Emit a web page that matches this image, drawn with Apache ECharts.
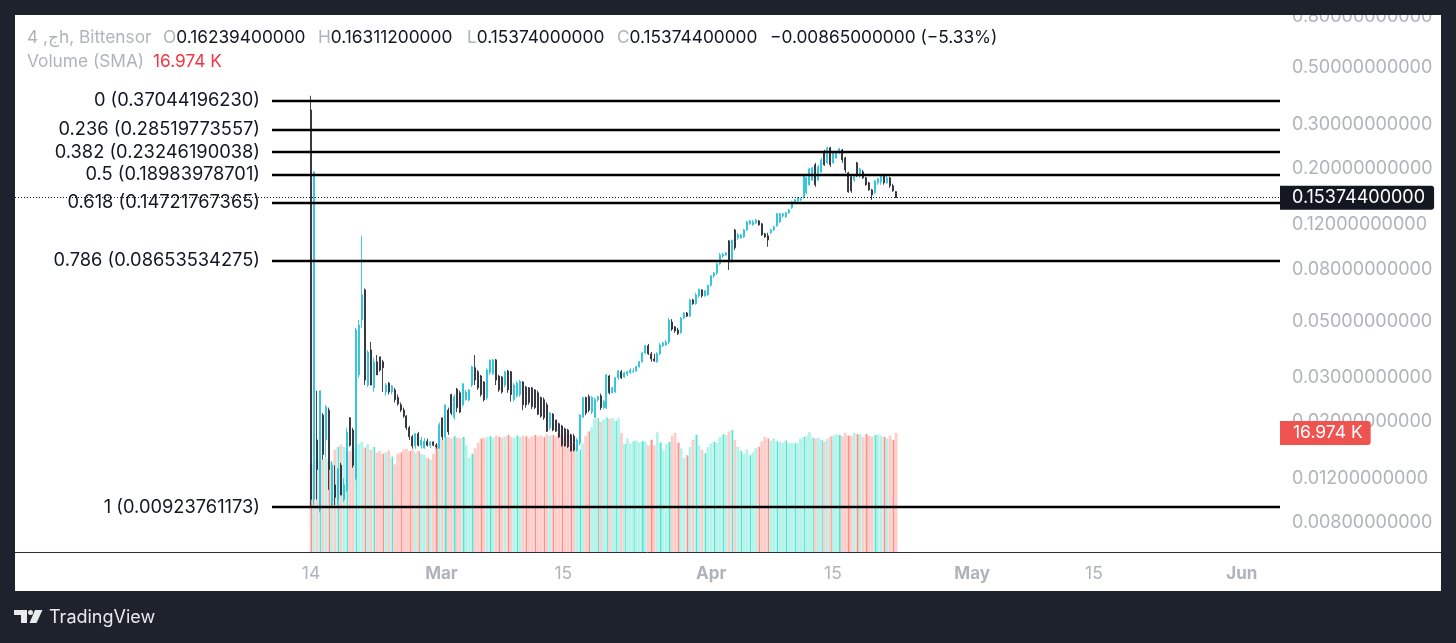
<!DOCTYPE html>
<html>
<head>
<meta charset="utf-8">
<title>Bittensor 4h</title>
<style>
  html, body { margin: 0; padding: 0; background: #1e222d; }
  #app { width: 1456px; height: 643px; }
</style>
<script src="https://cdn.jsdelivr.net/npm/echarts@6/dist/echarts.min.js"></script>
</head>
<body>
<div id="app"></div>
<script>
// prices, one candle per ~8h of the 4h chart
var opens = [
  .3413,.0099,.0170,.0090,.0213,.0170,.0223,.0094,.0113,.0099,.0135,.0099,.0108,.0208,.0186,.0120,.0307,.0506,.0665,.0280,
  .0385,.0273,.0346,.0362,.0346,.0263,.0285,.0263,.0268,.0250,.0234,.0223,.0211,.0190,.0175,.0161,.0180,.0162,.0158,.0168,
  .0162,.0167,.0162,.0158,.0208,.0175,.0223,.0257,.0209,.0270,.0261,.0234,.0245,.0245,.0280,.0328,.0316,.0304,.0288,.0250,
  .0313,.0310,.0352,.0304,.0301,.0280,.0318,.0316,.0245,.0254,.0257,.0288,.0275,.0273,.0273,.0268,.0261,.0250,.0245,.0234,
  .0190,.0215,.0204,.0197,.0193,.0188,.0186,.0178,.0176,.0155,.0165,.0209,.0250,.0252,.0219,.0209,.0245,.0254,.0228,.0228,
  .0304,.0261,.0263,.0299,.0316,.0301,.0310,.0313,.0316,.0318,.0331,.0346,.0375,.0400,.0372,.0355,.0346,.0372,.0400,.0403,
  .0414,.0497,.0475,.0462,.0450,.0515,.0539,.0524,.0607,.0586,.0630,.0665,.0630,.0636,.0693,.0755,.0776,.0843,.0905,.0914,
  .1038,.0858,.1147,.1067,.1067,.1077,.1147,.1212,.1202,.1223,.1245,.1212,.1107,.1087,.1117,.1147,.1191,.1234,.1304,.1292,
  .1340,.1402,.1468,.1494,.1507,.1537,.1607,.1729,.1807,.2073,.1807,.1945,.2332,.2110,.2418,.2110,.2208,.2311,.2373,.2208,
  .1927,.1859,.1807,.2110,.1876,.1945,.1841,.1760,.1650,.1607,.1760,.1776,.1893,.1760,.1841,.1713,.1624
];
var highs = [
  .3882,.1945,.0266,.0266,.0217,.0234,.0228,.0140,.0135,.0132,.0138,.0120,.0190,.0209,.0190,.0471,.0506,.1087,.0674,.0385,
  .0414,.0359,.0368,.0362,.0352,.0285,.0288,.0280,.0273,.0257,.0239,.0228,.0213,.0193,.0178,.0181,.0183,.0175,.0173,.0172,
  .0168,.0168,.0165,.0199,.0208,.0234,.0228,.0259,.0257,.0273,.0266,.0285,.0268,.0270,.0334,.0368,.0321,.0307,.0290,.0326,
  .0352,.0355,.0355,.0307,.0304,.0318,.0321,.0318,.0285,.0290,.0293,.0290,.0278,.0275,.0275,.0270,.0266,.0252,.0250,.0239,
  .0219,.0217,.0204,.0199,.0195,.0190,.0188,.0180,.0180,.0173,.0215,.0252,.0252,.0257,.0254,.0250,.0254,.0259,.0245,.0310,
  .0307,.0275,.0301,.0321,.0321,.0316,.0318,.0326,.0326,.0334,.0349,.0378,.0403,.0407,.0378,.0372,.0378,.0411,.0414,.0422,
  .0515,.0510,.0479,.0471,.0519,.0544,.0544,.0613,.0613,.0648,.0674,.0668,.0665,.0699,.0762,.0783,.0851,.0931,.0931,.0939,
  .1047,.1047,.1158,.1117,.1107,.1158,.1245,.1256,.1256,.1268,.1256,.1223,.1117,.1117,.1158,.1191,.1340,.1340,.1340,.1352,
  .1389,.1494,.1521,.1550,.1537,.1893,.1859,.2016,.2035,.2110,.2073,.2208,.2373,.2441,.2441,.2332,.2332,.2418,.2396,.2229,
  .1945,.1876,.1876,.2129,.2016,.1979,.1859,.1776,.1666,.1807,.1841,.1893,.1910,.1876,.1859,.1744,.1631
];
var lows = [
  .0092,.0094,.0099,.0088,.0142,.0145,.0108,.0092,.0094,.0094,.0103,.0097,.0106,.0160,.0132,.0118,.0299,.0471,.0280,.0275,
  .0280,.0263,.0307,.0316,.0263,.0254,.0257,.0257,.0239,.0232,.0219,.0208,.0186,.0170,.0157,.0157,.0160,.0157,.0157,.0160,
  .0158,.0161,.0157,.0157,.0170,.0173,.0178,.0213,.0204,.0219,.0217,.0230,.0243,.0241,.0275,.0280,.0268,.0252,.0241,.0245,
  .0307,.0307,.0280,.0263,.0259,.0275,.0261,.0241,.0241,.0250,.0252,.0223,.0228,.0234,.0225,.0225,.0213,.0208,.0204,.0183,
  .0186,.0184,.0183,.0173,.0160,.0160,.0158,.0153,.0153,.0153,.0162,.0208,.0213,.0219,.0215,.0208,.0241,.0223,.0225,.0225,
  .0257,.0259,.0261,.0293,.0296,.0299,.0304,.0310,.0313,.0316,.0328,.0343,.0372,.0368,.0346,.0346,.0343,.0368,.0396,.0400,
  .0407,.0458,.0450,.0442,.0446,.0510,.0519,.0519,.0581,.0581,.0619,.0619,.0625,.0630,.0686,.0741,.0762,.0835,.0889,.0905,
  .0797,.0851,.0956,.1047,.1057,.1067,.1137,.1202,.1191,.1212,.1191,.1087,.1067,.0984,.1107,.1137,.1180,.1223,.1280,.1280,
  .1328,.1389,.1455,.1481,.1494,.1521,.1593,.1713,.1791,.1697,.1791,.1927,.2054,.2091,.2035,.2091,.2188,.2290,.2110,.1927,
  .1607,.1607,.1776,.1859,.1841,.1824,.1713,.1636,.1507,.1593,.1729,.1729,.1729,.1744,.1681,.1622,.1537
];
var closes = [
  .0099,.1945,.0130,.0266,.0149,.0230,.0130,.0135,.0101,.0130,.0103,.0113,.0183,.0162,.0135,.0462,.0483,.0636,.0293,.0378,
  .0280,.0346,.0307,.0321,.0328,.0280,.0263,.0278,.0245,.0236,.0223,.0211,.0190,.0175,.0161,.0180,.0162,.0170,.0168,.0162,
  .0167,.0162,.0160,.0195,.0175,.0234,.0183,.0217,.0252,.0228,.0219,.0283,.0263,.0268,.0331,.0293,.0273,.0257,.0245,.0321,
  .0352,.0352,.0293,.0268,.0263,.0316,.0268,.0257,.0280,.0285,.0290,.0234,.0234,.0239,.0230,.0228,.0215,.0211,.0208,.0184,
  .0217,.0186,.0184,.0175,.0162,.0161,.0160,.0154,.0155,.0170,.0213,.0250,.0217,.0223,.0250,.0245,.0252,.0228,.0241,.0307,
  .0261,.0273,.0299,.0318,.0299,.0313,.0316,.0321,.0318,.0331,.0346,.0375,.0400,.0372,.0355,.0349,.0372,.0403,.0411,.0414,
  .0506,.0466,.0458,.0446,.0515,.0539,.0524,.0607,.0586,.0636,.0668,.0630,.0659,.0693,.0755,.0776,.0843,.0914,.0922,.0931,
  .0858,.1047,.0975,.1097,.1097,.1147,.1234,.1245,.1234,.1256,.1202,.1097,.1077,.1047,.1147,.1180,.1328,.1328,.1328,.1340,
  .1376,.1481,.1507,.1537,.1521,.1876,.1841,.1998,.2016,.1729,.2035,.2167,.2073,.2418,.2073,.2311,.2311,.2396,.2167,.1979,
  .1622,.1636,.1859,.1876,.1998,.1841,.1729,.1650,.1579,.1791,.1824,.1876,.1760,.1841,.1713,.1636,.1537
];
// volume in thousands
var volumes = [
  12.5,13.1,13.3,13.0,13.2,13.4,13.0,12.9,14.6,15.0,15.3,15.0,14.2,14.4,14.8,14.9,15.4,15.7,14.9,15.4,
  14.6,15.0,14.2,14.4,14.0,14.2,14.5,13.6,12.5,14.0,14.2,14.6,14.7,14.4,14.6,14.2,14.4,14.0,13.8,13.4,
  13.2,14.0,15.4,16.2,16.0,16.4,16.4,16.2,16.5,16.3,16.2,16.4,15.2,13.4,14.0,14.8,15.6,16.2,16.3,16.4,
  16.5,16.3,16.6,16.4,16.3,16.5,16.7,16.4,16.3,16.6,16.4,16.6,16.5,16.2,16.5,16.7,16.5,16.6,16.4,16.8,
  16.6,16.7,16.5,17.0,16.8,16.4,17.0,16.7,15.4,15.0,14.6,15.5,16.5,17.2,17.8,19.0,19.1,18.6,18.9,19.2,
  19.0,19.1,18.7,19.1,17.0,15.4,16.2,15.5,15.8,15.9,15.6,15.8,15.7,15.2,16.0,15.2,17.1,15.6,14.5,15.4,
  15.7,16.6,17.0,15.6,14.8,13.4,13.8,15.0,16.0,16.7,15.2,14.6,14.1,15.0,15.5,15.7,15.6,16.4,16.8,16.7,
  17.2,17.4,16.0,15.0,14.4,14.0,14.6,13.8,14.2,14.8,15.0,15.8,16.4,16.2,15.9,16.2,15.8,15.7,15.6,15.9,
  15.5,15.6,15.5,15.6,16.2,16.4,16.6,17.1,16.3,16.2,16.3,16.0,15.8,16.2,16.5,16.6,16.8,16.7,16.5,17.0,
  16.6,16.6,17.0,16.8,16.8,16.4,16.8,16.6,16.5,16.7,16.8,16.6,16.4,16.2,16.6,16.0,16.974
];
var priceTicks = [0.8, 0.5, 0.3, 0.2, 0.12, 0.08, 0.05, 0.03, 0.02, 0.012, 0.008];
var fibRatios = ['0', '0.236', '0.382', '0.5', '0.618', '0.786', '1'];
var fibPrices = [0.3704419623, 0.28519773557, 0.23246190038, 0.18983978701, 0.14721767365, 0.08653534275, 0.00923761173];
// x axis counts days from 14 Feb
var dayTicks = [0, 15, 29, 46, 60, 76, 90, 107];
var dayLabels = ['14', '{m|Mar}', '15', '{m|Apr}', '15', '{m|May}', '15', '{m|Jun}'];
var lastPrice = 0.153744;
var lastVolume = 16.974;

var candleStep = 0.3431;
var axisFrom = -34.02;
var axisTo = 111.38;
var GRAY = '#b0b3b8';
var DARK = '#1e222d';

// pale bar, with a thin strong edge on every third one
function volumeColor(up, i) {
    var pale = up ? '#b4f3ea' : '#ffcdc9';
    var strong = up ? '#4fe6d4' : '#ff8f87';
    if (i % 3 !== 0) return pale;
    return new echarts.graphic.LinearGradient(0, 0, 1, 0, [
        { offset: 0, color: pale },
        { offset: 0.55, color: pale },
        { offset: 0.55, color: strong },
        { offset: 1, color: strong }
    ]);
}

var candleData = [];
var volumeData = [];
for (var i = 0; i < closes.length; i++) {
    var t = i * candleStep;
    candleData.push([t, opens[i], closes[i], lows[i], highs[i]]);
    volumeData.push({
        value: [t, volumes[i]],
        itemStyle: { color: volumeColor(closes[i] >= opens[i], i) }
    });
}

// fib lines run from just right of their labels to the price scale
var lineFrom = -4.48;
var fibLines = fibPrices.map(function (p, k) {
    return [
        {
            coord: [lineFrom, p],
            label: { formatter: fibRatios[k] + ' (' + p.toFixed(11) + ')' }
        },
        { coord: [axisTo, p] }
    ];
});

var HEAD_FONT = '17.3px Inter';
function headerText(x, y, text, rich) {
    return {
        type: 'text', x: x, y: y, z: 110, silent: true,
        style: { text: text, font: HEAD_FONT, fill: '#000', rich: rich, verticalAlign: 'middle' }
    };
}
var headRich = {
    g: { fill: GRAY, font: HEAD_FONT },
    k: { fill: '#131722', font: HEAD_FONT },
    r: { fill: '#f23645', font: HEAD_FONT }
};

var myEchart = echarts.init(document.getElementById('app'), null, { renderer: 'canvas' });
myEchart.setOption({
    animation: false,
    backgroundColor: '#fff',
    textStyle: { fontFamily: 'Inter' },
    grid: { left: 15, top: 15, right: 176, bottom: 91 },
    xAxis: {
        type: 'value',
        min: axisFrom,
        max: axisTo,
        axisLine: { onZero: false, lineStyle: { color: '#2a2e39', width: 1 } },
        axisTick: { show: false },
        splitLine: { show: false },
        axisLabel: {
            customValues: dayTicks,
            margin: 13,
            color: GRAY,
            fontSize: 17.5,
            formatter: function (v) { return dayLabels[dayTicks.indexOf(v)]; },
            rich: { m: { color: GRAY, fontSize: 17, fontWeight: 'bold' } }
        }
    },
    yAxis: [{
        type: 'log',
        position: 'right',
        min: 0.00614,
        max: 0.809,
        axisLine: { show: false },
        axisTick: { show: false },
        splitLine: { show: false },
        axisLabel: {
            customValues: priceTicks,
            margin: 12,
            color: GRAY,
            fontSize: 18,
            formatter: function (v) { return Number(v).toFixed(11); }
        }
    }, {
        type: 'value',
        min: 0,
        max: 76.6,
        show: false
    }],
    series: [{
        type: 'bar',
        yAxisIndex: 1,
        barWidth: 2.8,
        z: 1,
        silent: true,
        data: volumeData,
        markLine: {
            silent: true,
            symbol: 'none',
            z: 20,
            lineStyle: { color: 'rgba(0,0,0,0)', width: 0 },
            label: {
                show: true,
                position: 'end',
                distance: 0,
                formatter: '16.974 K',
                color: '#fff',
                fontSize: 17.5,
                backgroundColor: '#ef5350',
                borderRadius: [0, 3, 3, 0],
                padding: [3, 8, 3, 13]
            },
            data: [{ yAxis: lastVolume }]
        }
    }, {
        type: 'candlestick',
        barWidth: 1.5,
        z: 3,
        silent: true,
        itemStyle: {
            color: '#8fe3ef',
            borderColor: '#12bcd6',
            color0: '#8a8d96',
            borderColor0: '#131722',
            borderWidth: 0.8
        },
        data: candleData,
        markLine: {
            silent: true,
            symbol: 'none',
            z: 5,
            lineStyle: { color: '#000', width: 2.4, type: 'solid' },
            label: {
                show: true,
                position: 'start',
                distance: 12,
                color: '#131722',
                fontSize: 18.3
            },
            data: fibLines.concat([[
                {
                    coord: [axisFrom, lastPrice],
                    lineStyle: { color: '#131722', width: 1, type: [1, 2] },
                    label: {
                        position: 'end',
                        distance: 0,
                        formatter: lastPrice.toFixed(11),
                        color: '#fff',
                        fontSize: 18,
                        backgroundColor: '#131722',
                        borderRadius: [0, 3, 3, 0],
                        padding: [3, 9, 3, 12]
                    }
                },
                { coord: [axisTo, lastPrice] }
            ]])
        }
    }],
    graphic: [
        // dark frame around the white panel
        { type: 'rect', z: 100, silent: true, shape: { x: 0, y: 0, width: 1456, height: 15 }, style: { fill: DARK } },
        { type: 'rect', z: 100, silent: true, shape: { x: 0, y: 591, width: 1456, height: 52 }, style: { fill: DARK } },
        { type: 'rect', z: 100, silent: true, shape: { x: 0, y: 0, width: 15, height: 643 }, style: { fill: DARK } },
        { type: 'rect', z: 100, silent: true, shape: { x: 1441, y: 0, width: 15, height: 643 }, style: { fill: DARK } },
        { type: 'line', z: 100, silent: true, shape: { x1: 1280, y1: 552.5, x2: 1441, y2: 552.5 }, style: { stroke: '#2a2e39', lineWidth: 1 } },
        // legend lines
        headerText(27, 38, '{g|4 ,جh, Bittensor}', headRich),
        headerText(163, 38, '{g|O}{k|0.16239400000}', headRich),
        headerText(318, 38, '{g|H}{k|0.16311200000}', headRich),
        headerText(467, 38, '{g|L}{k|0.15374000000}', headRich),
        headerText(617, 38, '{g|C}{k|0.15374400000}', headRich),
        headerText(770, 38, '{k|−0.00865000000 (−5.33%)}', headRich),
        headerText(27, 62, '{g|Volume (SMA)}', headRich),
        headerText(153, 62, '{r|16.974 K}', headRich),
        // logo
        { type: 'polygon', z: 110, silent: true, shape: { points: [[14, 610], [27, 610], [27, 623], [21, 623], [21, 615], [14, 615]] }, style: { fill: '#e8eaee' } },
        { type: 'circle', z: 110, silent: true, shape: { cx: 30.5, cy: 612.5, r: 2.5 }, style: { fill: '#e8eaee' } },
        { type: 'polygon', z: 110, silent: true, shape: { points: [[35, 610], [42.5, 610], [36.5, 623], [29.5, 623]] }, style: { fill: '#e8eaee' } },
        {
            type: 'text', x: 49, y: 618, z: 110, silent: true,
            style: { text: 'TradingView', font: '18px Inter', fill: '#e8eaee', verticalAlign: 'middle' }
        }
    ]
});
</script>
</body>
</html>
